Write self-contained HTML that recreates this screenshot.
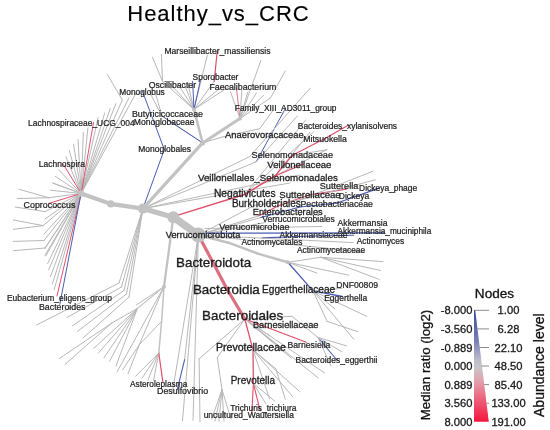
<!DOCTYPE html><html><head><meta charset="utf-8"><style>
html,body{margin:0;padding:0;background:#fff;width:550px;height:430px;overflow:hidden}
svg{display:block;filter:blur(0.35px)}
text{font-family:"Liberation Sans",Arial,sans-serif}
</style></head><body>
<svg width="550" height="430" viewBox="0 0 550 430">
<defs><linearGradient id="lg" x1="0" y1="0" x2="0" y2="1">
<stop offset="0" stop-color="#38479a"/><stop offset="0.28" stop-color="#7a82b8"/>
<stop offset="0.45" stop-color="#bcbdcb"/><stop offset="0.52" stop-color="#c9c5c7"/><stop offset="0.63" stop-color="#e2a2b0"/>
<stop offset="0.82" stop-color="#ee5874"/><stop offset="1" stop-color="#f5153e"/></linearGradient></defs>
<rect width="550" height="430" fill="#fff"/>

<g stroke-linecap="round" fill="none">
<line x1="81.2" y1="193.5" x2="135.3" y2="94.4" stroke="#b8b8b8" stroke-width="1.0"/>
<line x1="81.2" y1="193.5" x2="128.8" y2="98.1" stroke="#b8b8b8" stroke-width="1.0"/>
<line x1="81.2" y1="193.5" x2="122.3" y2="100.0" stroke="#b8b8b8" stroke-width="1.0"/>
<line x1="81.2" y1="193.5" x2="115.8" y2="103.7" stroke="#b8b8b8" stroke-width="1.0"/>
<line x1="81.2" y1="193.5" x2="110.2" y2="108.7" stroke="#b8b8b8" stroke-width="1.0"/>
<line x1="81.2" y1="193.5" x2="104.7" y2="113.0" stroke="#b8b8b8" stroke-width="1.0"/>
<line x1="81.2" y1="193.5" x2="98.1" y2="117.7" stroke="#b8b8b8" stroke-width="1.0"/>
<line x1="81.2" y1="193.5" x2="87.9" y2="127.9" stroke="#b8b8b8" stroke-width="1.0"/>
<line x1="81.2" y1="193.5" x2="83.3" y2="132.6" stroke="#b8b8b8" stroke-width="1.0"/>
<line x1="81.2" y1="193.5" x2="78.0" y2="139.5" stroke="#b8b8b8" stroke-width="1.0"/>
<line x1="81.2" y1="193.5" x2="73.5" y2="144.2" stroke="#b8b8b8" stroke-width="1.0"/>
<line x1="81.2" y1="193.5" x2="69.3" y2="150.5" stroke="#b8b8b8" stroke-width="1.0"/>
<line x1="81.2" y1="193.5" x2="65.8" y2="156.7" stroke="#b8b8b8" stroke-width="1.0"/>
<line x1="81.2" y1="193.5" x2="58.8" y2="170.0" stroke="#b8b8b8" stroke-width="1.0"/>
<line x1="81.2" y1="193.5" x2="55.3" y2="176.3" stroke="#b8b8b8" stroke-width="1.0"/>
<line x1="81.2" y1="193.5" x2="53.3" y2="183.3" stroke="#b8b8b8" stroke-width="1.0"/>
<line x1="81.2" y1="193.5" x2="52.4" y2="182.8" stroke="#b8b8b8" stroke-width="1.0"/>
<line x1="81.2" y1="193.5" x2="50.6" y2="190.2" stroke="#b8b8b8" stroke-width="1.0"/>
<line x1="81.2" y1="193.5" x2="45.0" y2="219.0" stroke="#b8b8b8" stroke-width="1.0"/>
<line x1="81.2" y1="193.5" x2="44.0" y2="234.0" stroke="#b8b8b8" stroke-width="1.0"/>
<line x1="81.2" y1="193.5" x2="45.0" y2="255.3" stroke="#b8b8b8" stroke-width="1.0"/>
<line x1="122.3" y1="100.0" x2="107.4" y2="74.5" stroke="#b8b8b8" stroke-width="1.0"/>
<line x1="81.2" y1="193.5" x2="48.7" y2="197.7" stroke="#b8b8b8" stroke-width="1.0"/>
<line x1="48.7" y1="197.7" x2="19.0" y2="189.3" stroke="#b8b8b8" stroke-width="1.0"/>
<line x1="48.7" y1="197.7" x2="17.1" y2="198.6" stroke="#b8b8b8" stroke-width="1.0"/>
<line x1="81.2" y1="193.5" x2="45.0" y2="211.6" stroke="#b8b8b8" stroke-width="1.0"/>
<line x1="45.0" y1="211.6" x2="15.2" y2="207.0" stroke="#b8b8b8" stroke-width="1.0"/>
<line x1="81.2" y1="193.5" x2="43.1" y2="225.6" stroke="#b8b8b8" stroke-width="1.0"/>
<line x1="43.1" y1="225.6" x2="13.4" y2="220.0" stroke="#b8b8b8" stroke-width="1.0"/>
<line x1="43.1" y1="225.6" x2="13.4" y2="229.3" stroke="#b8b8b8" stroke-width="1.0"/>
<line x1="81.2" y1="193.5" x2="44.0" y2="240.5" stroke="#b8b8b8" stroke-width="1.0"/>
<line x1="44.0" y1="240.5" x2="13.4" y2="241.4" stroke="#b8b8b8" stroke-width="1.0"/>
<line x1="81.2" y1="193.5" x2="45.0" y2="248.0" stroke="#b8b8b8" stroke-width="1.0"/>
<line x1="45.0" y1="248.0" x2="13.4" y2="250.7" stroke="#b8b8b8" stroke-width="1.0"/>
<line x1="81.2" y1="193.5" x2="44.9" y2="248.6" stroke="#b8b8b8" stroke-width="1.0"/>
<line x1="81.2" y1="193.5" x2="45.8" y2="256.0" stroke="#b8b8b8" stroke-width="1.0"/>
<line x1="81.2" y1="193.5" x2="47.7" y2="263.5" stroke="#b8b8b8" stroke-width="1.0"/>
<line x1="81.2" y1="193.5" x2="48.6" y2="270.0" stroke="#b8b8b8" stroke-width="1.0"/>
<line x1="81.2" y1="193.5" x2="50.5" y2="276.5" stroke="#b8b8b8" stroke-width="1.0"/>
<line x1="81.2" y1="193.5" x2="52.3" y2="284.0" stroke="#b8b8b8" stroke-width="1.0"/>
<line x1="81.2" y1="193.5" x2="54.2" y2="289.5" stroke="#b8b8b8" stroke-width="1.0"/>
<line x1="81.2" y1="193.5" x2="93.5" y2="122.6" stroke="#e0506a" stroke-width="1.0"/>
<line x1="81.2" y1="193.5" x2="63.5" y2="164.5" stroke="#e0506a" stroke-width="1.0"/>
<line x1="81.2" y1="193.5" x2="48.5" y2="203.5" stroke="#e0506a" stroke-width="1.0"/>
<line x1="81.2" y1="193.5" x2="57.0" y2="296.0" stroke="#e0506a" stroke-width="1.0"/>
<line x1="80.6" y1="196.0" x2="59.8" y2="304.4" stroke="#4b5db3" stroke-width="1.0"/>
<line x1="142.9" y1="208.6" x2="119.0" y2="283.0" stroke="#b8b8b8" stroke-width="1.0"/>
<line x1="119.0" y1="283.0" x2="36.6" y2="325.0" stroke="#b8b8b8" stroke-width="1.0"/>
<line x1="142.9" y1="208.6" x2="121.5" y2="287.0" stroke="#b8b8b8" stroke-width="1.0"/>
<line x1="121.5" y1="287.0" x2="67.0" y2="317.5" stroke="#b8b8b8" stroke-width="1.0"/>
<line x1="142.9" y1="208.6" x2="124.0" y2="290.5" stroke="#b8b8b8" stroke-width="1.0"/>
<line x1="124.0" y1="290.5" x2="72.4" y2="325.8" stroke="#b8b8b8" stroke-width="1.0"/>
<line x1="142.9" y1="208.6" x2="126.5" y2="294.0" stroke="#b8b8b8" stroke-width="1.0"/>
<line x1="126.5" y1="294.0" x2="77.5" y2="331.4" stroke="#b8b8b8" stroke-width="1.0"/>
<line x1="142.9" y1="208.6" x2="129.0" y2="297.0" stroke="#b8b8b8" stroke-width="1.0"/>
<line x1="129.0" y1="297.0" x2="83.0" y2="338.0" stroke="#b8b8b8" stroke-width="1.0"/>
<line x1="142.9" y1="208.6" x2="164.3" y2="149.5" stroke="#4b5db3" stroke-width="1.0"/>
<line x1="164.3" y1="149.5" x2="142.5" y2="91.5" stroke="#4b5db3" stroke-width="1.0"/>
<line x1="202.6" y1="142.9" x2="170.0" y2="121.5" stroke="#b8b8b8" stroke-width="1.0"/>
<line x1="202.6" y1="142.9" x2="162.0" y2="116.0" stroke="#4b5db3" stroke-width="1.0"/>
<line x1="162.0" y1="116.0" x2="149.2" y2="91.4" stroke="#b8b8b8" stroke-width="1.0"/>
<line x1="162.0" y1="116.0" x2="155.6" y2="94.0" stroke="#b8b8b8" stroke-width="1.0"/>
<line x1="194.0" y1="109.5" x2="162.5" y2="81.3" stroke="#b8b8b8" stroke-width="1.0"/>
<line x1="162.5" y1="81.3" x2="152.4" y2="57.1" stroke="#b8b8b8" stroke-width="1.0"/>
<line x1="162.5" y1="81.3" x2="161.4" y2="54.3" stroke="#b8b8b8" stroke-width="1.0"/>
<line x1="194.0" y1="109.5" x2="207.3" y2="55.2" stroke="#b8b8b8" stroke-width="1.0"/>
<line x1="194.0" y1="109.5" x2="170.0" y2="84.0" stroke="#b8b8b8" stroke-width="1.0"/>
<line x1="194.0" y1="109.5" x2="178.0" y2="84.0" stroke="#b8b8b8" stroke-width="1.0"/>
<line x1="194.0" y1="109.5" x2="184.0" y2="83.0" stroke="#b8b8b8" stroke-width="1.0"/>
<line x1="194.0" y1="109.5" x2="188.0" y2="84.0" stroke="#b8b8b8" stroke-width="1.0"/>
<line x1="194.0" y1="109.5" x2="200.4" y2="80.3" stroke="#4b5db3" stroke-width="1.0"/>
<line x1="194.0" y1="109.5" x2="192.6" y2="81.3" stroke="#4b5db3" stroke-width="1.0"/>
<line x1="194.0" y1="109.5" x2="214.2" y2="81.3" stroke="#b8b8b8" stroke-width="1.0"/>
<line x1="214.2" y1="81.3" x2="217.2" y2="51.5" stroke="#e0506a" stroke-width="1.2"/>
<line x1="194.0" y1="109.5" x2="224.0" y2="85.0" stroke="#b8b8b8" stroke-width="1.0"/>
<line x1="194.0" y1="109.5" x2="230.0" y2="86.0" stroke="#b8b8b8" stroke-width="1.0"/>
<line x1="240.0" y1="118.6" x2="236.5" y2="88.8" stroke="#e07890" stroke-width="1.0"/>
<line x1="240.0" y1="118.6" x2="260.9" y2="60.5" stroke="#b8b8b8" stroke-width="1.0"/>
<line x1="240.0" y1="118.6" x2="230.5" y2="91.8" stroke="#b8b8b8" stroke-width="1.0"/>
<line x1="240.0" y1="118.6" x2="241.8" y2="90.0" stroke="#b8b8b8" stroke-width="1.0"/>
<line x1="240.0" y1="118.6" x2="247.9" y2="91.8" stroke="#b8b8b8" stroke-width="1.0"/>
<line x1="240.0" y1="118.6" x2="256.6" y2="92.7" stroke="#b8b8b8" stroke-width="1.0"/>
<line x1="240.0" y1="118.6" x2="263.6" y2="95.3" stroke="#b8b8b8" stroke-width="1.0"/>
<line x1="240.0" y1="118.6" x2="270.5" y2="97.9" stroke="#b8b8b8" stroke-width="1.0"/>
<line x1="270.5" y1="97.9" x2="285.3" y2="70.9" stroke="#b8b8b8" stroke-width="1.0"/>
<line x1="202.6" y1="142.9" x2="222.8" y2="136.9" stroke="#b8b8b8" stroke-width="1.0"/>
<line x1="222.8" y1="136.9" x2="259.7" y2="128.7" stroke="#b8b8b8" stroke-width="1.0"/>
<line x1="259.7" y1="128.7" x2="273.3" y2="109.9" stroke="#b8b8b8" stroke-width="1.0"/>
<line x1="142.9" y1="208.6" x2="256.2" y2="161.8" stroke="#b8b8b8" stroke-width="1.0"/>
<line x1="256.2" y1="161.8" x2="285.4" y2="108.5" stroke="#4b5db3" stroke-width="1.0"/>
<line x1="256.2" y1="161.8" x2="297.4" y2="116.0" stroke="#b8b8b8" stroke-width="1.0"/>
<line x1="142.9" y1="208.6" x2="249.6" y2="156.7" stroke="#b8b8b8" stroke-width="1.0"/>
<line x1="249.6" y1="156.7" x2="310.2" y2="88.1" stroke="#b8b8b8" stroke-width="1.0"/>
<line x1="142.9" y1="208.6" x2="300.0" y2="175.0" stroke="#b8b8b8" stroke-width="1.0"/>
<line x1="142.9" y1="208.6" x2="290.0" y2="183.0" stroke="#b8b8b8" stroke-width="1.0"/>
<line x1="275.0" y1="176.0" x2="310.0" y2="132.0" stroke="#b8b8b8" stroke-width="1.0"/>
<line x1="292.0" y1="155.5" x2="326.5" y2="149.8" stroke="#b8b8b8" stroke-width="1.0"/>
<line x1="244.5" y1="194.5" x2="313.9" y2="131.5" stroke="#b8b8b8" stroke-width="1.0"/>
<line x1="244.5" y1="194.5" x2="305.7" y2="120.0" stroke="#b8b8b8" stroke-width="1.0"/>
<line x1="275.0" y1="176.0" x2="327.0" y2="149.5" stroke="#b8b8b8" stroke-width="1.0"/>
<line x1="178.7" y1="214.9" x2="244.5" y2="194.5" stroke="#e0506a" stroke-width="1.5"/>
<line x1="244.5" y1="194.5" x2="275.0" y2="176.0" stroke="#e0506a" stroke-width="1.5"/>
<line x1="275.0" y1="176.0" x2="292.0" y2="155.5" stroke="#e0506a" stroke-width="1.2"/>
<line x1="292.0" y1="155.5" x2="325.4" y2="138.3" stroke="#e0506a" stroke-width="1.2"/>
<line x1="325.4" y1="138.3" x2="348.2" y2="125.3" stroke="#e0506a" stroke-width="1.2"/>
<line x1="275.0" y1="176.0" x2="303.5" y2="164.0" stroke="#e0506a" stroke-width="1.2"/>
<line x1="198.4" y1="235.0" x2="258.9" y2="215.8" stroke="#b8b8b8" stroke-width="1.0"/>
<line x1="198.4" y1="235.0" x2="261.0" y2="217.5" stroke="#b8b8b8" stroke-width="1.0"/>
<line x1="198.4" y1="235.0" x2="254.8" y2="205.2" stroke="#b8b8b8" stroke-width="1.0"/>
<line x1="198.4" y1="235.0" x2="265.0" y2="222.6" stroke="#b8b8b8" stroke-width="1.0"/>
<line x1="258.9" y1="215.8" x2="279.0" y2="205.5" stroke="#e0506a" stroke-width="1.2"/>
<line x1="279.0" y1="205.5" x2="310.0" y2="194.8" stroke="#e0506a" stroke-width="1.2"/>
<line x1="310.0" y1="194.8" x2="346.4" y2="189.2" stroke="#e0506a" stroke-width="1.2"/>
<line x1="261.0" y1="217.5" x2="300.0" y2="207.0" stroke="#4b5db3" stroke-width="1.2"/>
<line x1="300.0" y1="207.0" x2="337.0" y2="203.0" stroke="#4b5db3" stroke-width="1.2"/>
<line x1="337.0" y1="203.0" x2="379.1" y2="188.1" stroke="#4b5db3" stroke-width="1.2"/>
<line x1="300.0" y1="200.0" x2="373.0" y2="171.2" stroke="#b8b8b8" stroke-width="1.0"/>
<line x1="300.0" y1="200.0" x2="375.3" y2="179.8" stroke="#b8b8b8" stroke-width="1.0"/>
<line x1="254.8" y1="205.2" x2="300.0" y2="200.0" stroke="#b8b8b8" stroke-width="1.0"/>
<line x1="204.0" y1="233.2" x2="384.5" y2="232.8" stroke="#4b5db3" stroke-width="1.3"/>
<line x1="262.2" y1="237.9" x2="313.0" y2="236.0" stroke="#4b5db3" stroke-width="1.1"/>
<line x1="313.0" y1="236.0" x2="353.7" y2="235.3" stroke="#4b5db3" stroke-width="1.1"/>
<line x1="205.0" y1="228.5" x2="321.6" y2="226.5" stroke="#b8b8b8" stroke-width="1.0"/>
<line x1="287.8" y1="262.3" x2="320.7" y2="257.3" stroke="#b8b8b8" stroke-width="1.0"/>
<line x1="320.7" y1="257.3" x2="383.0" y2="261.6" stroke="#b8b8b8" stroke-width="1.0"/>
<line x1="320.7" y1="257.3" x2="380.5" y2="270.5" stroke="#b8b8b8" stroke-width="1.0"/>
<line x1="320.7" y1="257.3" x2="379.2" y2="279.4" stroke="#b8b8b8" stroke-width="1.0"/>
<line x1="287.8" y1="262.3" x2="316.9" y2="273.1" stroke="#b8b8b8" stroke-width="1.0"/>
<line x1="287.8" y1="262.3" x2="348.7" y2="275.1" stroke="#b8b8b8" stroke-width="1.0"/>
<line x1="287.8" y1="262.3" x2="313.0" y2="290.9" stroke="#4b5db3" stroke-width="1.3"/>
<line x1="313.0" y1="290.9" x2="342.3" y2="296.5" stroke="#4b5db3" stroke-width="1.3"/>
<line x1="313.0" y1="290.9" x2="342.3" y2="288.3" stroke="#b8b8b8" stroke-width="1.0"/>
<line x1="313.0" y1="290.9" x2="334.7" y2="308.7" stroke="#b8b8b8" stroke-width="1.0"/>
<line x1="313.0" y1="290.9" x2="366.5" y2="316.3" stroke="#b8b8b8" stroke-width="1.0"/>
<line x1="313.0" y1="290.9" x2="327.1" y2="321.4" stroke="#b8b8b8" stroke-width="1.0"/>
<line x1="327.1" y1="321.4" x2="357.6" y2="331.6" stroke="#b8b8b8" stroke-width="1.0"/>
<line x1="313.0" y1="290.9" x2="353.8" y2="339.2" stroke="#b8b8b8" stroke-width="1.0"/>
<line x1="198.4" y1="235.0" x2="353.3" y2="242.6" stroke="#b8b8b8" stroke-width="1.0"/>
<line x1="198.4" y1="235.0" x2="364.0" y2="252.0" stroke="#b8b8b8" stroke-width="1.0"/>
<line x1="244.8" y1="319.0" x2="253.0" y2="349.9" stroke="#e0506a" stroke-width="1.3"/>
<line x1="253.0" y1="349.9" x2="253.4" y2="383.4" stroke="#e0506a" stroke-width="1.3"/>
<line x1="253.4" y1="383.4" x2="251.8" y2="413.5" stroke="#e0506a" stroke-width="1.1"/>
<line x1="253.4" y1="383.4" x2="260.1" y2="410.6" stroke="#e0506a" stroke-width="1.1"/>
<line x1="253.4" y1="383.4" x2="274.8" y2="401.2" stroke="#b8b8b8" stroke-width="1.0"/>
<line x1="253.4" y1="383.4" x2="266.0" y2="404.0" stroke="#b8b8b8" stroke-width="1.0"/>
<line x1="253.0" y1="349.9" x2="275.8" y2="368.7" stroke="#b8b8b8" stroke-width="1.0"/>
<line x1="275.8" y1="368.7" x2="285.3" y2="399.1" stroke="#b8b8b8" stroke-width="1.0"/>
<line x1="253.0" y1="349.9" x2="292.6" y2="396.6" stroke="#b8b8b8" stroke-width="1.0"/>
<line x1="253.0" y1="349.9" x2="300.0" y2="391.8" stroke="#b8b8b8" stroke-width="1.0"/>
<line x1="253.0" y1="349.9" x2="269.6" y2="399.0" stroke="#b8b8b8" stroke-width="1.0"/>
<line x1="244.8" y1="319.0" x2="306.2" y2="342.3" stroke="#e0506a" stroke-width="1.2"/>
<line x1="244.8" y1="319.0" x2="292.0" y2="316.3" stroke="#b8b8b8" stroke-width="1.0"/>
<line x1="292.0" y1="316.3" x2="318.0" y2="337.5" stroke="#b8b8b8" stroke-width="1.0"/>
<line x1="318.0" y1="337.5" x2="337.3" y2="360.5" stroke="#4b5db3" stroke-width="1.1"/>
<line x1="318.0" y1="337.5" x2="346.4" y2="345.8" stroke="#b8b8b8" stroke-width="1.0"/>
<line x1="318.0" y1="337.5" x2="341.7" y2="351.7" stroke="#b8b8b8" stroke-width="1.0"/>
<line x1="318.0" y1="337.5" x2="331.0" y2="366.0" stroke="#b8b8b8" stroke-width="1.0"/>
<line x1="244.8" y1="319.0" x2="270.7" y2="336.4" stroke="#b8b8b8" stroke-width="1.0"/>
<line x1="244.8" y1="319.0" x2="279.0" y2="345.8" stroke="#b8b8b8" stroke-width="1.0"/>
<line x1="244.8" y1="319.0" x2="291.5" y2="358.3" stroke="#b8b8b8" stroke-width="1.0"/>
<line x1="244.8" y1="319.0" x2="318.2" y2="378.0" stroke="#b8b8b8" stroke-width="1.0"/>
<line x1="244.8" y1="319.0" x2="324.5" y2="372.9" stroke="#b8b8b8" stroke-width="1.0"/>
<line x1="244.8" y1="319.0" x2="217.3" y2="357.5" stroke="#b8b8b8" stroke-width="1.0"/>
<line x1="217.3" y1="357.5" x2="222.0" y2="389.6" stroke="#b8b8b8" stroke-width="1.0"/>
<line x1="222.0" y1="389.6" x2="211.7" y2="419.0" stroke="#b8b8b8" stroke-width="1.0"/>
<line x1="222.0" y1="389.6" x2="215.0" y2="421.0" stroke="#b8b8b8" stroke-width="1.0"/>
<line x1="222.0" y1="389.6" x2="219.0" y2="421.0" stroke="#b8b8b8" stroke-width="1.0"/>
<line x1="222.0" y1="389.6" x2="224.0" y2="421.0" stroke="#b8b8b8" stroke-width="1.0"/>
<line x1="222.0" y1="389.6" x2="231.0" y2="419.0" stroke="#b8b8b8" stroke-width="1.0"/>
<line x1="244.8" y1="319.0" x2="199.1" y2="358.9" stroke="#b8b8b8" stroke-width="1.0"/>
<line x1="199.1" y1="358.9" x2="200.0" y2="421.7" stroke="#b8b8b8" stroke-width="1.0"/>
<line x1="137.4" y1="308.4" x2="111.4" y2="323.3" stroke="#b8b8b8" stroke-width="1.0"/>
<line x1="111.4" y1="323.3" x2="59.3" y2="358.6" stroke="#b8b8b8" stroke-width="1.0"/>
<line x1="111.4" y1="323.3" x2="65.1" y2="364.4" stroke="#b8b8b8" stroke-width="1.0"/>
<line x1="137.4" y1="308.4" x2="93.7" y2="348.4" stroke="#b8b8b8" stroke-width="1.0"/>
<line x1="137.4" y1="308.4" x2="98.4" y2="353.0" stroke="#b8b8b8" stroke-width="1.0"/>
<line x1="137.4" y1="308.4" x2="104.0" y2="357.7" stroke="#b8b8b8" stroke-width="1.0"/>
<line x1="137.4" y1="308.4" x2="109.5" y2="361.4" stroke="#b8b8b8" stroke-width="1.0"/>
<line x1="137.4" y1="308.4" x2="116.0" y2="366.0" stroke="#b8b8b8" stroke-width="1.0"/>
<line x1="164.0" y1="286.7" x2="139.3" y2="344.7" stroke="#b8b8b8" stroke-width="1.0"/>
<line x1="164.0" y1="286.7" x2="136.5" y2="304.9" stroke="#b8b8b8" stroke-width="1.0"/>
<line x1="164.0" y1="286.7" x2="117.0" y2="372.0" stroke="#b8b8b8" stroke-width="1.0"/>
<line x1="139.3" y1="344.7" x2="122.6" y2="369.8" stroke="#b8b8b8" stroke-width="1.0"/>
<line x1="139.3" y1="344.7" x2="128.1" y2="373.5" stroke="#b8b8b8" stroke-width="1.0"/>
<line x1="158.8" y1="353.0" x2="135.6" y2="376.3" stroke="#b8b8b8" stroke-width="1.0"/>
<line x1="158.8" y1="353.0" x2="142.1" y2="378.1" stroke="#b8b8b8" stroke-width="1.0"/>
<line x1="158.8" y1="353.0" x2="148.0" y2="380.0" stroke="#b8b8b8" stroke-width="1.0"/>
<line x1="158.8" y1="353.0" x2="153.5" y2="380.5" stroke="#b8b8b8" stroke-width="1.0"/>
<line x1="158.8" y1="353.0" x2="162.8" y2="381.6" stroke="#e0506a" stroke-width="1.2"/>
<line x1="198.4" y1="235.0" x2="184.6" y2="359.7" stroke="#b8b8b8" stroke-width="1.0"/>
<line x1="184.6" y1="359.7" x2="177.3" y2="389.6" stroke="#4b5db3" stroke-width="1.1"/>
<line x1="198.4" y1="235.0" x2="172.6" y2="391.0" stroke="#b8b8b8" stroke-width="1.0"/>
<line x1="198.4" y1="235.0" x2="193.0" y2="420.3" stroke="#b8b8b8" stroke-width="1.0"/>
<line x1="198.4" y1="235.0" x2="182.5" y2="420.7" stroke="#b8b8b8" stroke-width="1.0"/>
<line x1="161.6" y1="321.4" x2="139.3" y2="344.7" stroke="#b8b8b8" stroke-width="1.0"/>
<line x1="164.0" y1="286.7" x2="137.4" y2="308.4" stroke="#c2c2c2" stroke-width="1.2"/>
<line x1="164.0" y1="286.7" x2="161.6" y2="321.4" stroke="#c2c2c2" stroke-width="1.5"/>
<line x1="161.6" y1="321.4" x2="158.8" y2="353.0" stroke="#c2c2c2" stroke-width="1.5"/>
<line x1="173.3" y1="217.2" x2="164.0" y2="286.7" stroke="#c2c2c2" stroke-width="2.3"/>
<line x1="198.4" y1="235.0" x2="228.4" y2="242.7" stroke="#c2c2c2" stroke-width="2.5"/>
<line x1="228.4" y1="242.7" x2="257.8" y2="253.6" stroke="#c2c2c2" stroke-width="2.5"/>
<line x1="257.8" y1="253.6" x2="287.8" y2="262.3" stroke="#c2c2c2" stroke-width="2.5"/>
<line x1="198.4" y1="235.0" x2="227.0" y2="289.0" stroke="#dc6f80" stroke-width="3.2"/>
<line x1="227.0" y1="289.0" x2="244.8" y2="319.0" stroke="#dc6f80" stroke-width="3.2"/>
<line x1="202.6" y1="142.9" x2="194.0" y2="109.5" stroke="#c2c2c2" stroke-width="2.5"/>
<line x1="202.6" y1="142.9" x2="240.0" y2="118.6" stroke="#c2c2c2" stroke-width="3"/>
<line x1="142.9" y1="208.6" x2="202.6" y2="142.9" stroke="#c2c2c2" stroke-width="3.2"/>
<line x1="81.2" y1="193.5" x2="110.7" y2="203.9" stroke="#c2c2c2" stroke-width="4"/>
<line x1="110.7" y1="203.9" x2="142.9" y2="208.6" stroke="#c2c2c2" stroke-width="4.2"/>
<line x1="142.9" y1="208.6" x2="173.3" y2="217.2" stroke="#c2c2c2" stroke-width="5.2"/>
<line x1="173.3" y1="217.2" x2="198.4" y2="235.0" stroke="#c2c2c2" stroke-width="7.6"/>
</g><g>
<circle cx="164.0" cy="286.7" r="2" fill="#c2c2c2"/>
<circle cx="287.8" cy="262.3" r="2" fill="#c2c2c2"/>
<circle cx="244.8" cy="319.0" r="2" fill="#dc6f80"/>
<circle cx="194.0" cy="109.5" r="2" fill="#c2c2c2"/>
<circle cx="240.0" cy="118.6" r="2" fill="#c2c2c2"/>
<circle cx="202.6" cy="142.9" r="2.5" fill="#c2c2c2"/>
<circle cx="81.2" cy="193.5" r="3.2" fill="#c2c2c2"/>
<circle cx="110.7" cy="203.9" r="3.6" fill="#c2c2c2"/>
<circle cx="142.9" cy="208.6" r="5" fill="#c2c2c2"/>
<circle cx="173.3" cy="217.2" r="6" fill="#c2c2c2"/>
<circle cx="198.4" cy="235.0" r="7.6" fill="#c2c2c2"/>
</g>
<g fill="#222">
<text x="127.30" y="21.00" font-size="22.00" letter-spacing="0.97" fill="#000" stroke="#000" stroke-width="0.15">Healthy_vs_CRC</text>
<text x="164.50" y="54.00" font-size="8.56" fill="#1c1c1c" stroke="#1c1c1c" stroke-width="0.22">Marseillibacter_massiliensis</text>
<text x="192.62" y="80.40" font-size="8.41" fill="#1c1c1c" stroke="#1c1c1c" stroke-width="0.22">Sporobacter</text>
<text x="148.69" y="87.60" font-size="8.71" fill="#1c1c1c" stroke="#1c1c1c" stroke-width="0.22">Oscillibacter</text>
<text x="209.38" y="90.00" font-size="8.81" fill="#1c1c1c" stroke="#1c1c1c" stroke-width="0.22">Faecalibacterium</text>
<text x="119.32" y="94.50" font-size="8.35" fill="#1c1c1c" stroke="#1c1c1c" stroke-width="0.22">Monoglobus</text>
<text x="131.98" y="117.30" font-size="8.82" fill="#1c1c1c" stroke="#1c1c1c" stroke-width="0.22">Butyricicoccaceae</text>
<text x="133.80" y="125.10" font-size="8.54" fill="#1c1c1c" stroke="#1c1c1c" stroke-width="0.22">Monoglobaceae</text>
<text x="234.82" y="110.90" font-size="8.33" fill="#1c1c1c" stroke="#1c1c1c" stroke-width="0.22">Family_XIII_AD3011_group</text>
<text x="28.11" y="126.20" font-size="8.45" fill="#1c1c1c" stroke="#1c1c1c" stroke-width="0.22">Lachnospiraceae_UCG_004</text>
<text x="297.81" y="128.50" font-size="8.44" fill="#1c1c1c" stroke="#1c1c1c" stroke-width="0.22">Bacteroides_xylanisolvens</text>
<text x="225.08" y="137.60" font-size="9.37" fill="#1c1c1c" stroke="#1c1c1c" stroke-width="0.28">Anaerovoracaceae</text>
<text x="303.18" y="141.60" font-size="8.74" fill="#1c1c1c" stroke="#1c1c1c" stroke-width="0.22">Mitsuokella</text>
<text x="138.30" y="151.80" font-size="8.48" fill="#1c1c1c" stroke="#1c1c1c" stroke-width="0.22">Monoglobales</text>
<text x="251.58" y="158.00" font-size="9.16" fill="#1c1c1c" stroke="#1c1c1c" stroke-width="0.22">Selenomonadaceae</text>
<text x="267.26" y="167.80" font-size="9.63" fill="#1c1c1c" stroke="#1c1c1c" stroke-width="0.28">Veillonellaceae</text>
<text x="38.81" y="166.50" font-size="8.46" fill="#1c1c1c" stroke="#1c1c1c" stroke-width="0.22">Lachnospira</text>
<text x="197.96" y="180.50" font-size="9.76" fill="#1c1c1c" stroke="#1c1c1c" stroke-width="0.28">Veillonellales_Selenomonadales</text>
<text x="319.78" y="189.20" font-size="9.14" fill="#1c1c1c" stroke="#1c1c1c" stroke-width="0.22">Sutterella</text>
<text x="359.11" y="191.40" font-size="8.44" fill="#1c1c1c" stroke="#1c1c1c" stroke-width="0.22">Dickeya_phage</text>
<text x="213.96" y="197.30" font-size="10.28" fill="#1c1c1c" stroke="#1c1c1c" stroke-width="0.28">Negativicutes</text>
<text x="279.36" y="198.10" font-size="9.60" fill="#1c1c1c" stroke="#1c1c1c" stroke-width="0.28">Sutterellaceae</text>
<text x="338.80" y="198.70" font-size="8.55" fill="#1c1c1c" stroke="#1c1c1c" stroke-width="0.22">Dickeya</text>
<text x="231.88" y="206.70" font-size="9.99" fill="#1c1c1c" stroke="#1c1c1c" stroke-width="0.28">Burkholderiales</text>
<text x="300.48" y="206.80" font-size="8.75" fill="#1c1c1c" stroke="#1c1c1c" stroke-width="0.22">Pectobacteriaceae</text>
<text x="23.55" y="208.40" font-size="8.89" fill="#1c1c1c" stroke="#1c1c1c" stroke-width="0.22">Coprococcus</text>
<text x="252.74" y="214.70" font-size="9.26" fill="#1c1c1c" stroke="#1c1c1c" stroke-width="0.28">Enterobacterales</text>
<text x="262.16" y="222.10" font-size="8.55" fill="#1c1c1c" stroke="#1c1c1c" stroke-width="0.22">Verrucomicrobiales</text>
<text x="337.58" y="225.70" font-size="8.64" fill="#1c1c1c" stroke="#1c1c1c" stroke-width="0.22">Akkermansia</text>
<text x="219.36" y="230.00" font-size="9.00" fill="#1c1c1c" stroke="#1c1c1c" stroke-width="0.22">Verrucomicrobiae</text>
<text x="337.58" y="233.60" font-size="8.27" fill="#1c1c1c" stroke="#1c1c1c" stroke-width="0.22">Akkermansia_muciniphila</text>
<text x="165.76" y="238.20" font-size="9.25" fill="#1c1c1c" stroke="#1c1c1c" stroke-width="0.28">Verrucomicrobiota</text>
<text x="279.48" y="238.30" font-size="8.55" fill="#1c1c1c" stroke="#1c1c1c" stroke-width="0.22">Akkermansiaceae</text>
<text x="356.68" y="244.00" font-size="8.38" fill="#1c1c1c" stroke="#1c1c1c" stroke-width="0.22">Actinomyces</text>
<text x="241.48" y="245.30" font-size="8.37" fill="#1c1c1c" stroke="#1c1c1c" stroke-width="0.22">Actinomycetales</text>
<text x="296.98" y="253.00" font-size="8.36" fill="#1c1c1c" stroke="#1c1c1c" stroke-width="0.22">Actinomycetaceae</text>
<text x="176.10" y="267.00" font-size="13.37" fill="#1c1c1c" stroke="#1c1c1c" stroke-width="0.34">Bacteroidota</text>
<text x="336.29" y="288.10" font-size="8.65" fill="#1c1c1c" stroke="#1c1c1c" stroke-width="0.22">DNF00809</text>
<text x="192.90" y="293.60" font-size="13.39" fill="#1c1c1c" stroke="#1c1c1c" stroke-width="0.34">Bacteroidia</text>
<text x="262.07" y="293.40" font-size="10.14" fill="#1c1c1c" stroke="#1c1c1c" stroke-width="0.28">Eggerthellaceae</text>
<text x="324.20" y="300.50" font-size="8.50" fill="#1c1c1c" stroke="#1c1c1c" stroke-width="0.22">Eggerthella</text>
<text x="7.01" y="300.70" font-size="8.44" fill="#1c1c1c" stroke="#1c1c1c" stroke-width="0.22">Eubacterium_eligens_group</text>
<text x="38.98" y="310.40" font-size="8.81" fill="#1c1c1c" stroke="#1c1c1c" stroke-width="0.22">Bacteroides</text>
<text x="202.00" y="320.00" font-size="13.40" fill="#1c1c1c" stroke="#1c1c1c" stroke-width="0.34">Bacteroidales</text>
<text x="252.94" y="328.40" font-size="9.21" fill="#1c1c1c" stroke="#1c1c1c" stroke-width="0.28">Barnesiellaceae</text>
<text x="216.03" y="350.90" font-size="10.57" fill="#1c1c1c" stroke="#1c1c1c" stroke-width="0.34">Prevotellaceae</text>
<text x="287.49" y="347.50" font-size="8.69" fill="#1c1c1c" stroke="#1c1c1c" stroke-width="0.22">Barnesiella</text>
<text x="295.50" y="362.60" font-size="8.47" fill="#1c1c1c" stroke="#1c1c1c" stroke-width="0.22">Bacteroides_eggerthii</text>
<text x="129.98" y="386.90" font-size="8.32" fill="#1c1c1c" stroke="#1c1c1c" stroke-width="0.22">Asteroleplasma</text>
<text x="157.07" y="394.20" font-size="8.84" fill="#1c1c1c" stroke="#1c1c1c" stroke-width="0.22">Desulfovibrio</text>
<text x="230.68" y="384.00" font-size="9.99" fill="#1c1c1c" stroke="#1c1c1c" stroke-width="0.28">Prevotella</text>
<text x="230.21" y="410.60" font-size="8.39" fill="#1c1c1c" stroke="#1c1c1c" stroke-width="0.22">Trichuris_trichiura</text>
<text x="203.65" y="417.80" font-size="8.45" fill="#1c1c1c" stroke="#1c1c1c" stroke-width="0.22">uncultured_Wautersiella</text>
</g>
<polygon points="474,310 475.2,310 488.8,421.8 474,421.8" fill="url(#lg)"/>
<line x1="474.6" y1="310.3" x2="489" y2="310.3" stroke="#8c8c8c" stroke-width="1"/>
<line x1="477.0" y1="328.9" x2="489" y2="328.9" stroke="#8c8c8c" stroke-width="1"/>
<line x1="479.4" y1="347.5" x2="489" y2="347.5" stroke="#8c8c8c" stroke-width="1"/>
<line x1="481.7" y1="366.0" x2="489" y2="366.0" stroke="#8c8c8c" stroke-width="1"/>
<line x1="484.1" y1="384.6" x2="489" y2="384.6" stroke="#8c8c8c" stroke-width="1"/>
<line x1="486.4" y1="403.2" x2="489" y2="403.2" stroke="#8c8c8c" stroke-width="1"/>
<line x1="488.8" y1="421.8" x2="489" y2="421.8" stroke="#8c8c8c" stroke-width="1"/>
<text x="472.4" y="314.3" font-size="11.2" text-anchor="end" fill="#1a1a1a" stroke="#1a1a1a" stroke-width="0.3">-8.000</text>
<text x="508.5" y="314.3" font-size="11.2" text-anchor="middle" fill="#1a1a1a" stroke="#1a1a1a" stroke-width="0.3">1.00</text>
<text x="472.4" y="332.9" font-size="11.2" text-anchor="end" fill="#1a1a1a" stroke="#1a1a1a" stroke-width="0.3">-3.560</text>
<text x="508.5" y="332.9" font-size="11.2" text-anchor="middle" fill="#1a1a1a" stroke="#1a1a1a" stroke-width="0.3">6.28</text>
<text x="472.4" y="351.5" font-size="11.2" text-anchor="end" fill="#1a1a1a" stroke="#1a1a1a" stroke-width="0.3">-0.889</text>
<text x="508.5" y="351.5" font-size="11.2" text-anchor="middle" fill="#1a1a1a" stroke="#1a1a1a" stroke-width="0.3">22.10</text>
<text x="472.4" y="370.0" font-size="11.2" text-anchor="end" fill="#1a1a1a" stroke="#1a1a1a" stroke-width="0.3">0.000</text>
<text x="508.5" y="370.0" font-size="11.2" text-anchor="middle" fill="#1a1a1a" stroke="#1a1a1a" stroke-width="0.3">48.50</text>
<text x="472.4" y="388.6" font-size="11.2" text-anchor="end" fill="#1a1a1a" stroke="#1a1a1a" stroke-width="0.3">0.889</text>
<text x="508.5" y="388.6" font-size="11.2" text-anchor="middle" fill="#1a1a1a" stroke="#1a1a1a" stroke-width="0.3">85.40</text>
<text x="472.4" y="407.2" font-size="11.2" text-anchor="end" fill="#1a1a1a" stroke="#1a1a1a" stroke-width="0.3">3.560</text>
<text x="508.5" y="407.2" font-size="11.2" text-anchor="middle" fill="#1a1a1a" stroke="#1a1a1a" stroke-width="0.3">133.00</text>
<text x="472.4" y="425.8" font-size="11.2" text-anchor="end" fill="#1a1a1a" stroke="#1a1a1a" stroke-width="0.3">8.000</text>
<text x="508.5" y="425.8" font-size="11.2" text-anchor="middle" fill="#1a1a1a" stroke="#1a1a1a" stroke-width="0.3">191.00</text>
<text x="494.5" y="297.7" font-size="13.6" text-anchor="middle" fill="#111" stroke="#111" stroke-width="0.3">Nodes</text>
<text transform="translate(430.4,365) rotate(-90)" font-size="13.25" text-anchor="middle" fill="#111" stroke="#111" stroke-width="0.3">Median ratio (log2)</text>
<text transform="translate(543.6,365.2) rotate(-90)" font-size="14" text-anchor="middle" fill="#111" stroke="#111" stroke-width="0.3">Abundance level</text>
</svg></body></html>
